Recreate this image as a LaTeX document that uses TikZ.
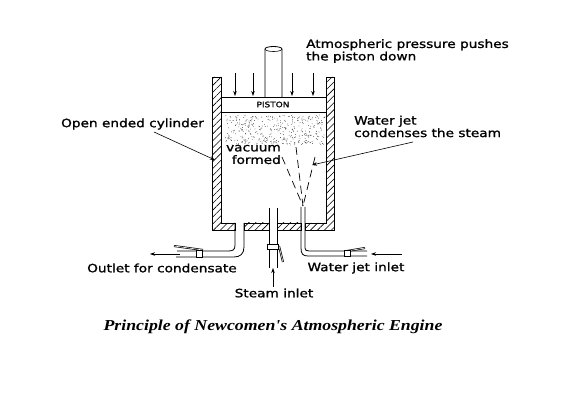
\documentclass[tikz,border=0pt]{standalone}
\usepackage{fontspec}
\setmainfont{DejaVu Sans}[FakeStretch=1.19,FakeBold=1.3]
\newfontfamily\captionfont{Liberation Serif}[FakeStretch=1.17]
\usetikzlibrary{patterns.meta,arrows.meta}
\tikzset{
  lbl/.style={inner sep=0pt,font=\fontsize{11.5}{12.5}\selectfont,align=left},
  wall/.style={draw,line width=0.9pt,pattern={Lines[angle=45,distance=4.9pt,line width=0.6pt]}},
  pipe/.style={line width=0.8pt},
  ptr/.style={-{Stealth[length=5pt,width=3.5pt]},line width=0.6pt},
  valve/.style={draw,fill=white,line width=0.7pt,inner sep=0pt},
  handle/.style={double,double distance=0.6pt,line width=0.7pt},
  jetline/.style={dash pattern=on 8pt off 5pt,line width=0.7pt}
}
\begin{document}
\begin{tikzpicture}[x=1pt,y=-1pt]
\useasboundingbox (0,0) rectangle (563,409);
% cylinder walls and floor
\draw[wall] (212,77) -- (221,77) -- (221,223) -- (235,223) -- (235,230) -- (212,230) -- cycle;
\draw[wall] (326,77) -- (334,77) -- (334,230) -- (305,230) -- (305,223) -- (326,223) -- cycle;
\draw[wall] (244,223) -- (269,223) -- (269,230) -- (244,230) -- cycle;
\draw[wall] (277,223) -- (301,223) -- (301,230) -- (277,230) -- cycle;
% piston and rod
\draw[line width=0.9pt] (221,97) rectangle (326,112);
\node[inner sep=0pt,font=\fontsize{7.5}{8}\selectfont] (piston) at (273,104.5) {PISTON};
\draw[line width=0.8pt] (265,97) -- (265,49) arc[start angle=180,end angle=0,x radius=8.5,y radius=-2.5] -- (282,97);
\draw[line width=0.6pt] (265,49) arc[start angle=180,end angle=360,x radius=8.5,y radius=-2.5];
\foreach \x in {235,253,292,313}{\draw[ptr] (\x,73) -- (\x,96);}
% steam dots
\pgfmathsetseed{17}
\foreach \i in {1,...,400}{
  \pgfmathsetmacro{\dotx}{225+rnd*100}
  \pgfmathsetmacro{\doty}{115+rnd*30}
  \fill[black!85] (\dotx,\doty) circle (0.4);
}
% pipes
\draw[pipe] (235,223) -- (235,245) .. controls (235,250) and (233,251) .. (228,251) -- (177,251);
\draw[pipe] (244,223) -- (244,247) .. controls (244,254) and (240,257) .. (234,257) -- (176,257);
\draw[pipe] (269,208) -- (269,268);
\draw[pipe] (277,208) -- (277,268);
\draw[pipe] (301,207) -- (301,248) .. controls (301,254) and (303,256) .. (308,256) -- (367,256);
\draw[pipe] (305,207) -- (305,248) .. controls (305,250) and (306,251) .. (309,251) -- (367,251);
% valves
\draw[handle] (174,246) -- (203,250);
\node[valve,minimum width=6pt,minimum height=7pt] (outvalve) at (199,254) {};
\draw[handle] (279,246) -- (283,262);
\node[valve,minimum width=11pt,minimum height=5pt] (steamvalve) at (273,247) {};
\draw[handle] (347,251) -- (365,248);
\node[valve,minimum width=6pt,minimum height=6pt] (watervalve) at (347,253.5) {};
% flow arrows
\coordinate (outa) at (180,254);
\coordinate (outb) at (150,254);
\coordinate (steama) at (273,287);
\coordinate (steamb) at (273,268);
\coordinate (watera) at (402,254);
\coordinate (waterb) at (371,254);
\draw[ptr] (outa) -- (outb);
\draw[ptr] (steama) -- (steamb);
\draw[ptr] (watera) -- (waterb);
% jet
\coordinate (jet) at (303,206);
\draw[jetline] (282,157) -- (jet);
\draw[jetline] (296,147) -- (jet);
\draw[jetline] (315,157) -- (jet);
% labels
\node[lbl,anchor=west] (atmos) at (306,51) {Atmospheric pressure pushes\\the piston down};
\node[lbl] (cyl) at (132.5,124) {Open ended cylinder};
\node[lbl,anchor=west] (jetlbl) at (354,126.5) {Water jet\\condenses the steam};
\node[lbl,align=right,anchor=east] (vac) at (281,154.5) {vacuum\\formed};
\node[lbl,anchor=west] (outlet) at (87,268) {Outlet for condensate};
\node[lbl] (steamlbl) at (274,293) {Steam inlet};
\node[lbl] (waterlbl) at (356,268) {Water jet inlet};
\node[inner sep=0pt,font=\captionfont\fontsize{15.2}{16}\selectfont\bfseries\itshape] (title) at (273,327) {Principle of Newcomen's Atmospheric Engine};
% leaders
\coordinate (cyltip) at (215,160);
\coordinate (cylstart) at (154,132);
\coordinate (jettip) at (312,165);
\coordinate (jetstart) at (413,142);
\draw[ptr] (cylstart) -- (cyltip);
\draw[ptr] (jetstart) -- (jettip);
\end{tikzpicture}
\end{document}
